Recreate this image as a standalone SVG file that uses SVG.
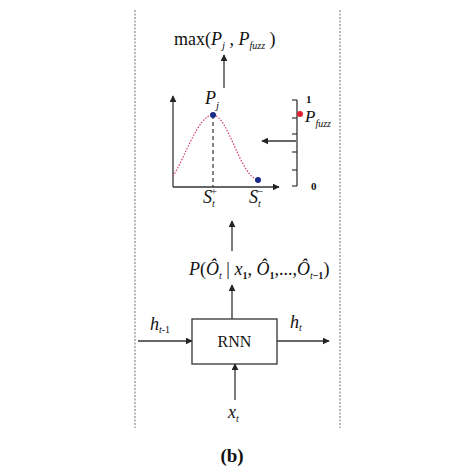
<svg xmlns="http://www.w3.org/2000/svg" width="474" height="474" viewBox="0 0 474 474">
<defs>
<marker id="ah" viewBox="0 0 10 10" refX="9" refY="5" markerWidth="7" markerHeight="7" orient="auto" markerUnits="userSpaceOnUse"><path d="M0,0 L10,5 L0,10 z" fill="#222"/></marker>
<style>
.t{font-family:"Liberation Serif","Times New Roman",serif;fill:#111}
.i{font-style:italic}
.ln{stroke:#333;stroke-width:1.3;fill:none}
.ar{stroke:#333;stroke-width:1.3;fill:none;marker-end:url(#ah)}
.bd{stroke:#888;stroke-width:1.2;stroke-dasharray:2,1.5;fill:none}
</style>
</defs>
<rect width="474" height="474" fill="#fff"/>
<g id="borders">
<line class="bd" x1="135" y1="10" x2="135" y2="428"/>
<line class="bd" x1="340" y1="10" x2="340" y2="428"/>
</g>
<g id="connectors">
<line class="ar" x1="224" y1="88" x2="224" y2="55"/>
<line class="ar" x1="296" y1="141" x2="262" y2="141"/>
<line class="ar" x1="232" y1="251" x2="232" y2="221"/>
<line class="ar" x1="232" y1="319" x2="232" y2="285"/>
<line class="ar" x1="138" y1="341" x2="192" y2="341"/>
<line class="ar" x1="277" y1="341" x2="329" y2="341"/>
<line class="ar" x1="235" y1="400" x2="235" y2="364"/>
</g>
<g id="output">
<text class="t" x="174" y="45" font-size="18">max(<tspan class="i">P</tspan><tspan class="i" font-size="11" dy="4">j</tspan><tspan dy="-4"> , </tspan><tspan class="i">P</tspan><tspan class="i" font-size="10" dy="4">fuzz</tspan><tspan dy="-4"> )</tspan></text>
</g>
<g id="graph">
<line class="ar" x1="173" y1="187" x2="173" y2="96"/>
<line class="ar" x1="173" y1="187" x2="279" y2="187"/>
<path d="M173,176 C185,158 198,115 213,115 C228,115 240,176 258,180" stroke="#d0407a" stroke-width="1.2" stroke-dasharray="1.5,1.5" fill="none"/>
<line x1="213" y1="115" x2="213" y2="187" stroke="#333" stroke-width="1.2" stroke-dasharray="4,3"/>
<circle cx="213" cy="115" r="3" fill="#1a2a8a"/>
<circle cx="258" cy="180" r="3" fill="#1a2a8a"/>
<text class="t i" x="205" y="104" font-size="18">P<tspan font-size="11" dy="5">j</tspan></text>
<text class="t i" x="203" y="203" font-size="18">S<tspan font-size="10" dy="4">t</tspan><tspan font-size="11" font-style="normal" dx="-4" dy="-12">+</tspan></text>
<text class="t i" x="249" y="203" font-size="18">S<tspan font-size="10" dy="4">t</tspan><tspan font-size="11" font-style="normal" dx="-4" dy="-12">−</tspan></text>
</g>
<g id="scale">
<line class="ln" x1="297" y1="100" x2="297" y2="186"/>
<g stroke="#333" stroke-width="1.2">
<line x1="292" y1="100" x2="297" y2="100"/>
<line x1="292" y1="118" x2="297" y2="118"/>
<line x1="292" y1="134" x2="297" y2="134"/>
<line x1="292" y1="152" x2="297" y2="152"/>
<line x1="292" y1="170" x2="297" y2="170"/>
<line x1="292" y1="186" x2="297" y2="186"/>
</g>
<circle cx="300" cy="114" r="3" fill="#e02030"/>
<text class="t" x="306" y="103" font-size="11" font-weight="bold">1</text>
<text class="t" x="311" y="190" font-size="11" font-weight="bold">0</text>
<text class="t i" x="305" y="122" font-size="17">P<tspan font-size="10" dy="5">fuzz</tspan></text>
</g>
<g id="prob">
<text class="t i" x="189" y="275" font-size="18">P<tspan font-style="normal">(</tspan>Ô<tspan font-size="10" dy="4">t</tspan><tspan font-style="normal" dy="-4"> | </tspan>x<tspan font-size="10" font-style="normal" font-weight="bold" dy="4">1</tspan><tspan font-style="normal" dy="-4">, </tspan>Ô<tspan font-size="10" font-style="normal" font-weight="bold" dy="4">1</tspan><tspan font-style="normal" dy="-4">,...,</tspan>Ô<tspan font-size="10" dy="4">t</tspan><tspan font-size="10" font-style="normal" font-weight="bold">−1</tspan><tspan font-style="normal" dy="-4">)</tspan></text>
</g>
<g id="rnn">
<rect x="192" y="319" width="85" height="45" fill="#fff" stroke="#333" stroke-width="1.3"/>
<text class="t" x="234.5" y="347" font-size="16" text-anchor="middle">RNN</text>
</g>
<g id="labels">
<text class="t i" x="150" y="330" font-size="18">h<tspan font-size="10" dy="3">t</tspan><tspan font-size="10" font-style="normal">-1</tspan></text>
<text class="t i" x="290" y="328" font-size="18">h<tspan font-size="10" dy="3">t</tspan></text>
<text class="t i" x="228" y="418" font-size="18">x<tspan font-size="10" dy="4">t</tspan></text>
<text class="t" x="232" y="462" font-size="19" font-weight="bold" text-anchor="middle">(b)</text>
</g>
</svg>
